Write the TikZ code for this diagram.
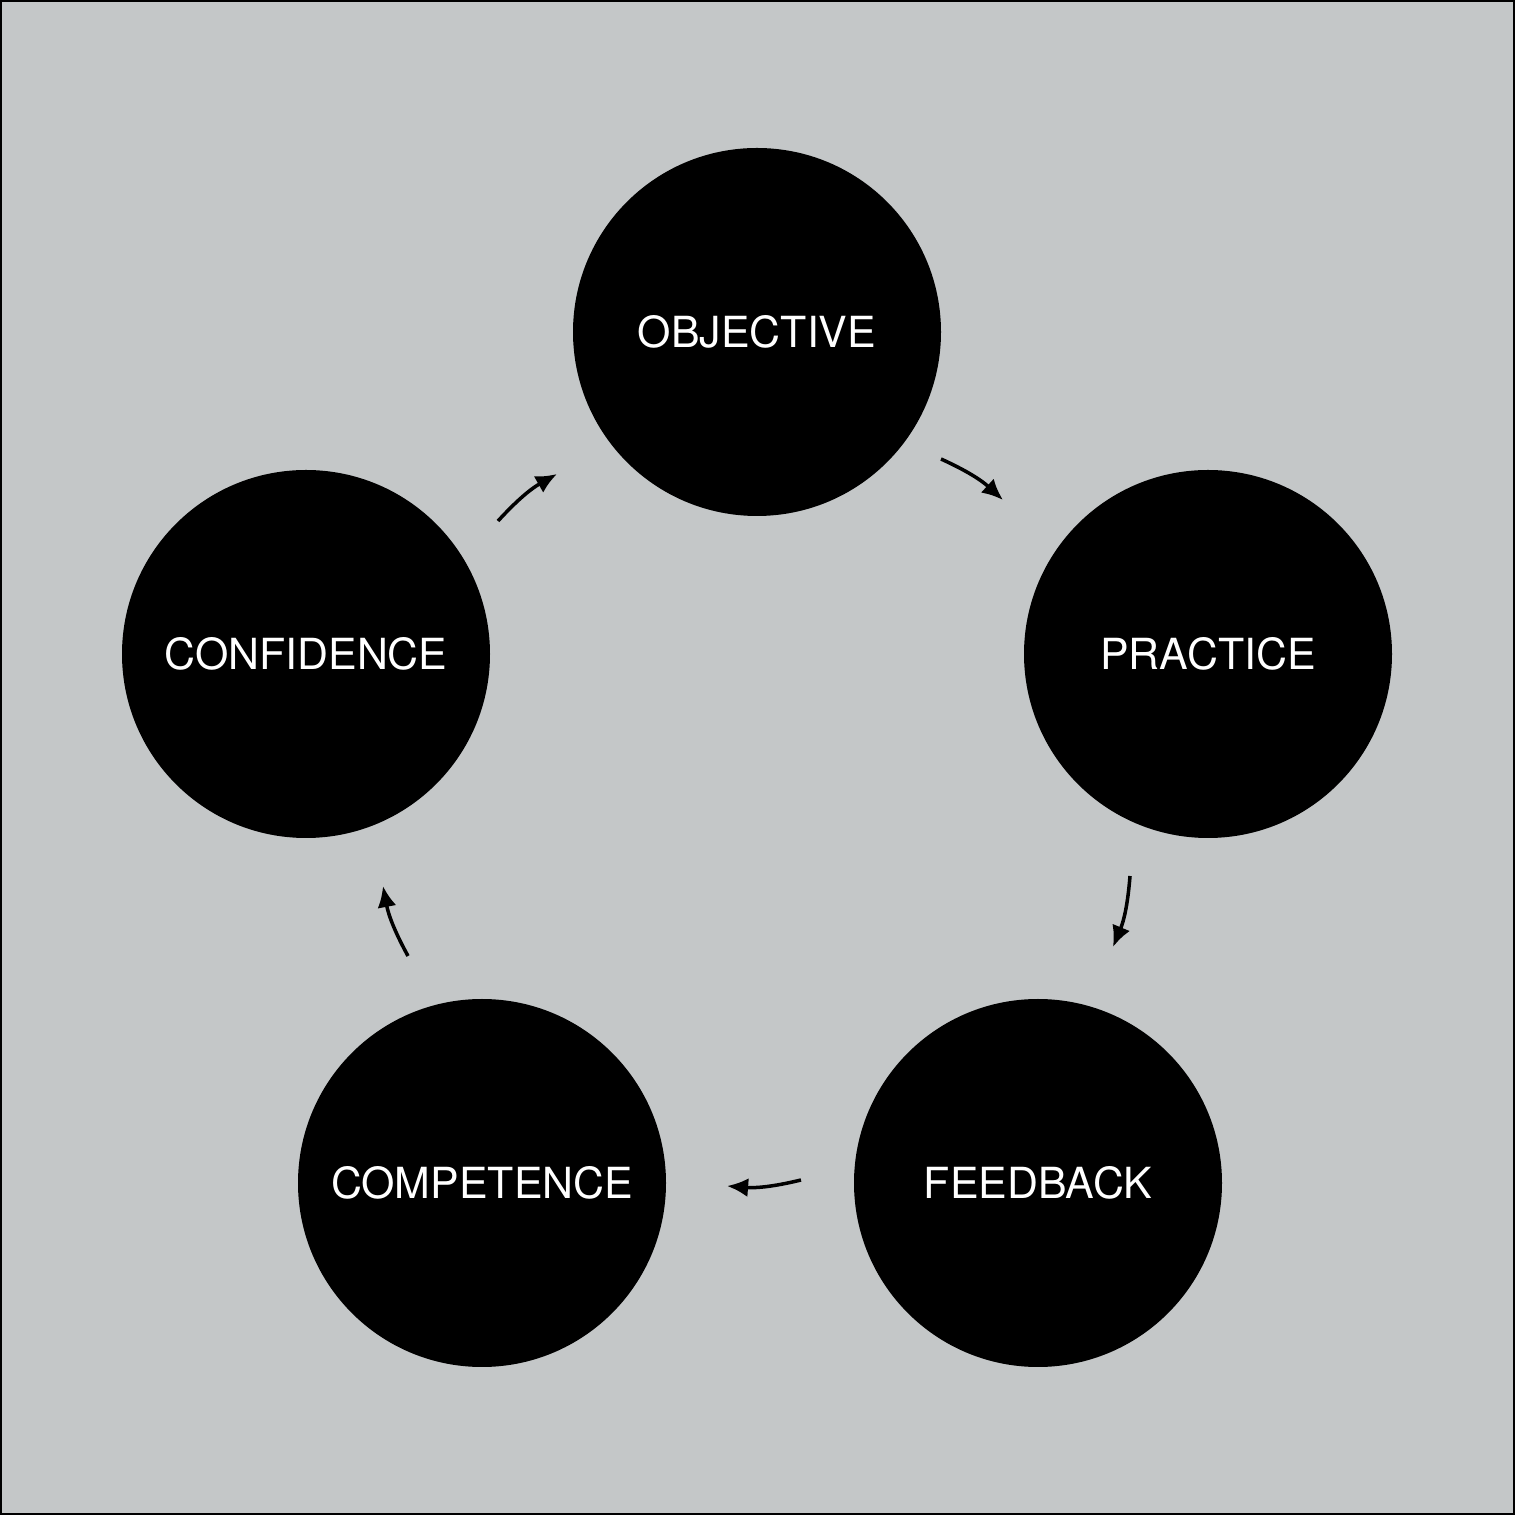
\documentclass[tikz,border=0pt]{standalone}
\usepackage{fontspec}
\setmainfont{TeX Gyre Heros}
\usetikzlibrary{arrows.meta}
\definecolor{cyclegray}{HTML}{C4C7C8}
\tikzset{
  stage/.style={circle, fill=black, text=white, minimum size=36.8mm, inner sep=0pt, font=\fontsize{12.2}{14}\selectfont},
  arr/.style={-{Latex[length=6pt,width=5.4pt]}, line width=1pt, color=black},
}
\begin{document}
\begin{tikzpicture}
  \useasboundingbox (0,0) rectangle (15.15,15.15);
  \fill[cyclegray] (0,0) rectangle (15.15,15.15);
  \draw[line width=0.6pt] (0.01,0.01) rectangle (15.14,15.14);
  % the five stages
  \node[stage] (obj) at (7.57,11.83) {OBJECTIVE};
  \node[stage] (prac) at (12.08,8.61) {PRACTICE};
  \node[stage] (feed) at (10.38,3.32) {FEEDBACK};
  \node[stage] (comp) at (4.82,3.32) {COMPETENCE};
  \node[stage] (conf) at (3.06,8.61) {CONFIDENCE};
  % arrows between them
  \foreach \n/\sx/\sy/\ex/\ey in {1/9.41/10.56/10.03/10.15, 2/11.30/6.39/11.13/5.68, 3/8.01/3.35/7.27/3.29, 4/4.08/5.59/3.83/6.29, 5/4.98/9.94/5.57/10.41} {
    \coordinate (s\n) at (\sx,\sy);
    \coordinate (e\n) at (\ex,\ey);
    \draw[arr] (s\n) to[bend left=9] (e\n);
  }
\end{tikzpicture}
\end{document}
